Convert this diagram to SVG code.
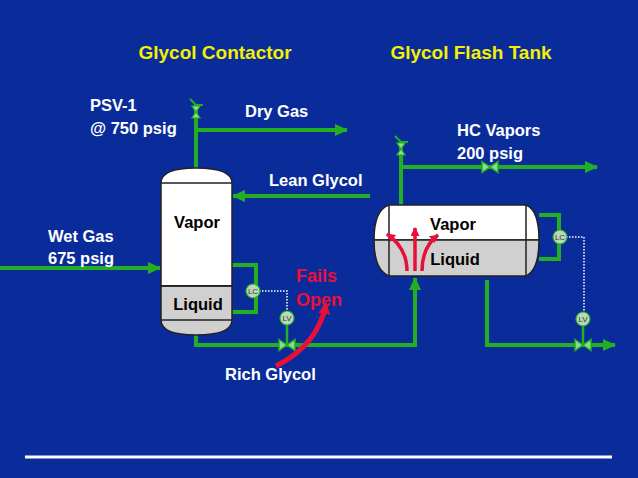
<svg xmlns="http://www.w3.org/2000/svg" width="638" height="478" viewBox="0 0 638 478">
<defs>
<marker id="ga" markerWidth="13" markerHeight="12" refX="12" refY="6" orient="auto" markerUnits="userSpaceOnUse"><path d="M0,0 L13,6 L0,12 z" fill="#22b022"/></marker>
<marker id="ra" markerWidth="12" markerHeight="12" refX="10" refY="6" orient="auto" markerUnits="userSpaceOnUse"><path d="M0,0 L12,6 L0,12 z" fill="#e8103a"/></marker>
<marker id="rs" markerWidth="9" markerHeight="9" refX="8" refY="4.5" orient="auto" markerUnits="userSpaceOnUse"><path d="M0,0 L9,4.5 L0,9 z" fill="#e8103a"/></marker>
<g id="valve"><path d="M-8,-5.5 L8,5.5 L8,-5.5 L-8,5.5 z" fill="#8fdc8f" stroke="#22b022" stroke-width="1.5"/></g>
</defs>
<style>
.p{fill:none;stroke:#22b022;stroke-width:4}
.t{font-family:"Liberation Sans",Arial,sans-serif;font-weight:bold;font-size:16.5px;fill:#fff}
.k{font-family:"Liberation Sans",Arial,sans-serif;font-weight:bold;font-size:16.5px;fill:#000}
.h{font-family:"Liberation Sans",Arial,sans-serif;font-weight:bold;font-size:19px;fill:#f5f000}
.ic{fill:#bcd8bc;stroke:#22b022;stroke-width:1.2}
.it{font-family:"Liberation Sans",Arial,sans-serif;font-size:8px;fill:#333;text-anchor:middle}
.d{fill:none;stroke:#fff;stroke-width:1.5;stroke-dasharray:1.5 1.5}
.r{fill:none;stroke:#e8103a;stroke-width:3.5}
</style>
<rect width="638" height="478" fill="#0a2c9a"/>
<text class="h" x="215" y="59" text-anchor="middle">Glycol Contactor</text>
<text class="h" x="471" y="59" text-anchor="middle">Glycol Flash Tank</text>
<g id="connectors">
<path class="p" d="M196,168 V104"/>
<path class="p" d="M196,130 H347" marker-end="url(#ga)"/>
<path class="p" d="M370,196 H233" marker-end="url(#ga)"/>
<path class="p" d="M0,268 H160" marker-end="url(#ga)"/>
<path class="p" d="M232,265 H256 V312 H232"/>
<path class="p" d="M196,335 V345 H415 V278" marker-end="url(#ga)"/>
<path class="p" d="M401,205 V142"/>
<path class="p" d="M401,167 H597" marker-end="url(#ga)"/>
<path class="p" d="M487,280 V345 H615" marker-end="url(#ga)"/>
<path class="p" d="M539,215 H559 V259 H539"/>
<path class="d" d="M259,291 H287 V312"/>
<path class="d" d="M566,237 H584 V312"/>
<path class="p" style="stroke-width:2.5" d="M287,324 V345 M583,325 V345"/>
</g>
<g id="psv1"><use href="#valve" transform="translate(196,112) rotate(90) scale(0.75)"/><path d="M196,105 L190,99 M196,105 L203,105" stroke="#22b022" stroke-width="2" fill="none"/></g>
<g id="psv2"><use href="#valve" transform="translate(401,149) rotate(90) scale(0.75)"/><path d="M401,142 L395,136 M401,142 L408,142" stroke="#22b022" stroke-width="2" fill="none"/></g>
<g id="v-hc"><use href="#valve" transform="translate(490,167)"/></g>
<g id="v-rich"><use href="#valve" transform="translate(287,345)"/></g>
<g id="v-ft"><use href="#valve" transform="translate(583,345)"/></g>
<g id="contactor">
<path d="M161,286 V183 Q161,168 196,168 Q232,168 232,183 V286 z" fill="#fff" stroke="#222" stroke-width="1.5"/>
<path d="M161,286 V320 Q161,335 196,335 Q232,335 232,320 V286 z" fill="#d0d0d0" stroke="#222" stroke-width="1.5"/>
<path d="M161,183 H232 M161,286 H232 M161,320 H232" stroke="#222" stroke-width="1.5"/>
<text class="k" x="197" y="228" text-anchor="middle">Vapor</text>
<text class="k" x="198" y="310" text-anchor="middle">Liquid</text>
</g>
<g id="flashtank">
<path d="M389,205 H526 Q539,210 539,240 H374 Q374,210 389,205 z" fill="#fff" stroke="#222" stroke-width="1.5"/>
<path d="M374,240 H539 Q539,270 526,276 H389 Q374,270 374,240 z" fill="#d0d0d0" stroke="#222" stroke-width="1.5"/>
<path d="M389,205 V276 M526,205 V276" stroke="#222" stroke-width="1.5"/>
<text class="k" x="453" y="230" text-anchor="middle">Vapor</text>
<text class="k" x="455" y="265" text-anchor="middle">Liquid</text>
<path class="r" d="M407,271 Q407,248 387,234" marker-end="url(#rs)"/>
<path class="r" d="M415,271 V228" marker-end="url(#rs)"/>
<path class="r" d="M422,271 Q422,247 438,235" marker-end="url(#rs)"/>
</g>
<g id="lc1"><circle class="ic" cx="253" cy="291" r="7"/><text class="it" x="253" y="294">LC</text></g>
<g id="lv1"><circle class="ic" cx="287" cy="318" r="7"/><text class="it" x="287" y="321">LV</text></g>
<g id="lc2"><circle class="ic" cx="560" cy="237" r="7"/><text class="it" x="560" y="240">LC</text></g>
<g id="lv2"><circle class="ic" cx="583" cy="319" r="7"/><text class="it" x="583" y="322">LV</text></g>
<g id="labels">
<text class="t" x="90" y="111">PSV-1</text>
<text class="t" x="90" y="134">@ 750 psig</text>
<text class="t" x="245" y="117">Dry Gas</text>
<text class="t" x="457" y="136">HC Vapors</text>
<text class="t" x="457" y="159">200 psig</text>
<text class="t" x="269" y="186">Lean Glycol</text>
<text class="t" x="48" y="242">Wet Gas</text>
<text class="t" x="48" y="264">675 psig</text>
<text class="t" x="225" y="380">Rich Glycol</text>
</g>
<g id="fails">
<text x="296" y="282" font-family="Liberation Sans,Arial,sans-serif" font-weight="bold" font-size="18" fill="#e8103a">Fails</text>
<text x="296" y="306" font-family="Liberation Sans,Arial,sans-serif" font-weight="bold" font-size="18" fill="#e8103a">Open</text>
<path d="M276,366 Q318,345 326,304" fill="none" stroke="#e8103a" stroke-width="5" marker-end="url(#ra)"/>
</g>
<line x1="25" y1="457" x2="612" y2="457" stroke="#fff" stroke-width="3"/>
</svg>
